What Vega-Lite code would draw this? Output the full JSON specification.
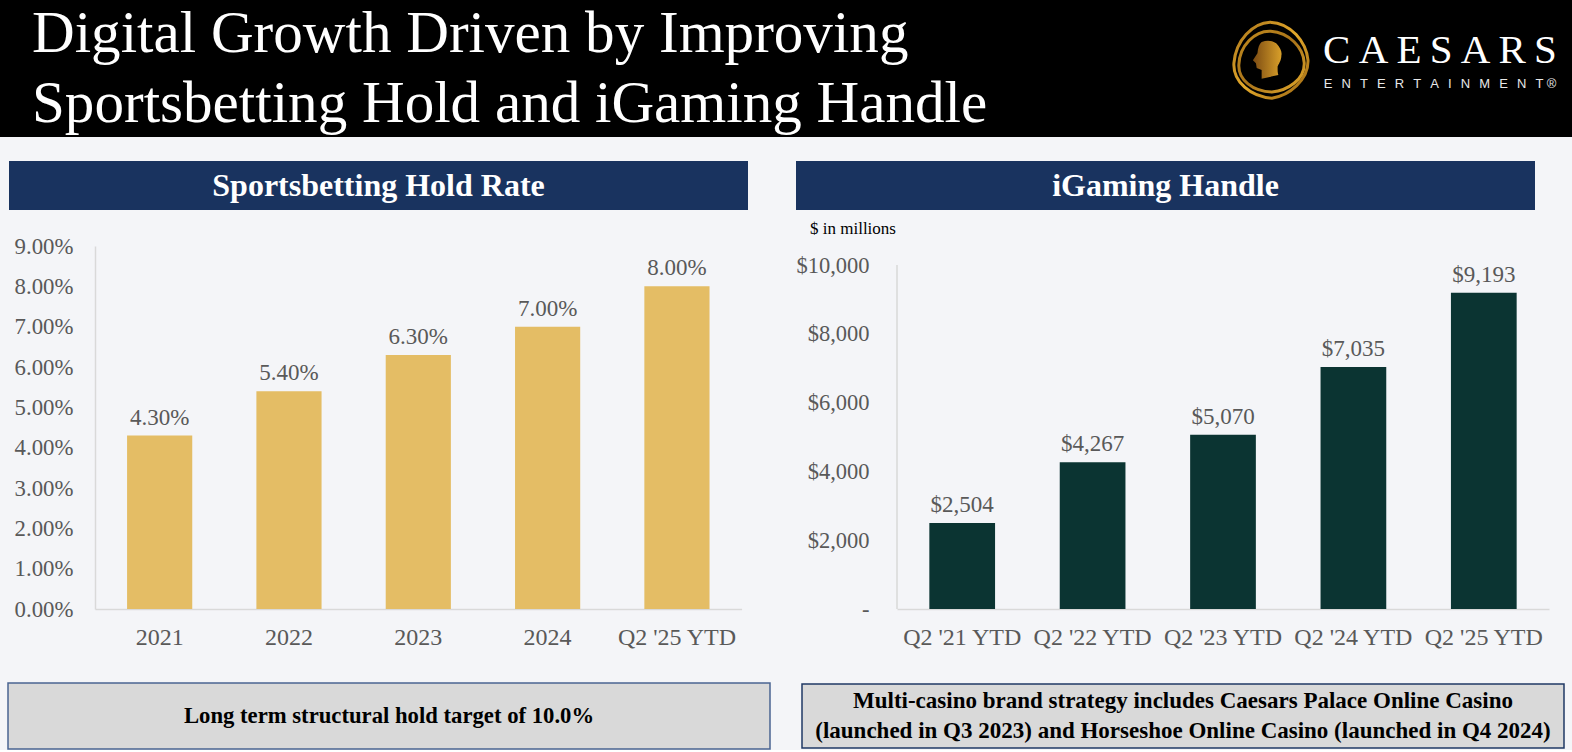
{"$schema":"https://vega.github.io/schema/vega-lite/v6.json","padding":0,"background":"#F4F5F8","config":{"view":{"stroke":null},"font":"Liberation Serif","concat":{"spacing":0}},"spacing":0,"vconcat":[
{"spacing":0,"bounds":"flush","hconcat":[
{"width":1220,"height":137,"view":{"fill":"#000000"},"title":{"text":["Digital Growth Driven by Improving","Sportsbetting Hold and iGaming Handle"],"anchor":"start","frame":"group","orient":"top","font":"Liberation Serif","fontSize":59.1,"fontWeight":"normal","color":"#FFFFFF","lineHeight":70,"dx":32,"dy":134,"offset":0},"data":{"values":[{"t":""}]},"mark":{"type":"text"},"encoding":{"text":{"field":"t"}}},
{"width":100,"height":137,"view":{"fill":"#000000"},"data":{"values":[{"k":"logo"}]},"layer":[
{"mark":{"type":"point","filled":false,"size":5776,"stroke":{"gradient":"linear","x1":0,"y1":0,"x2":1,"y2":1,"stops":[{"offset":0,"color":"#A9741A"},{"offset":0.5,"color":"#E3A92B"},{"offset":1,"color":"#9A6512"}]},"strokeWidth":3,"opacity":1,"shape":"M-0.95,-0.14 C-0.9,-0.75 -0.45,-1.2 0,-1.22 C0.55,-1.2 0.95,-0.7 1,-0.22 C1.02,0.3 0.5,0.72 0.05,0.78 C-0.5,0.75 -0.98,0.35 -0.95,-0.14 Z"}},
{"mark":{"type":"point","filled":false,"size":5776,"stroke":{"gradient":"linear","x1":0,"y1":0,"x2":1,"y2":1,"stops":[{"offset":0,"color":"#C08A1E"},{"offset":0.5,"color":"#A9741A"},{"offset":1,"color":"#E3A92B"}]},"strokeWidth":3,"opacity":1,"shape":"M-0.82,-0.1 C-0.8,-0.6 -0.4,-1 0.02,-0.98 C0.5,-0.95 0.88,-0.55 0.9,-0.15 C0.92,0.3 0.45,0.58 0.05,0.62 C-0.45,0.6 -0.84,0.3 -0.82,-0.1 Z"}},
{"mark":{"type":"point","filled":true,"size":5776,"fill":{"gradient":"linear","x1":0,"y1":0,"x2":1,"y2":0,"stops":[{"offset":0,"color":"#7A4A12"},{"offset":1,"color":"#D9A02A"}]},"strokeWidth":0,"opacity":1,"shape":"M-0.22,-0.7 C-0.05,-0.76 0.1,-0.72 0.17,-0.66 C0.28,-0.55 0.32,-0.42 0.3,-0.35 C0.3,-0.2 0.22,-0.12 0.2,-0.05 C0.2,0.05 0.2,0.12 0.22,0.17 L-0.22,0.27 L-0.22,0.04 L-0.35,-0.01 L-0.37,-0.14 L-0.45,-0.22 L-0.33,-0.4 C-0.32,-0.55 -0.28,-0.65 -0.22,-0.7 Z"}}
]},
{"width":252,"height":137,"view":{"fill":"#000000"},"layer":[
{"data":{"values":[{"label":"C\u2009A\u2009E\u2009S\u2009A\u2009R\u2009S"}]},"mark":{"type":"text","font":"Liberation Serif","fontSize":41,"color":"#FFFFFF","dx":-6,"dy":-18},"encoding":{"text":{"field":"label"}}},
{"data":{"values":[{"label":"E\u2002\u2009N\u2002\u2009T\u2002\u2009E\u2002\u2009R\u2002\u2009T\u2002\u2009A\u2002\u2009I\u2002\u2009N\u2002\u2009M\u2002\u2009E\u2002\u2009N\u2002\u2009T \u00ae"}]},"mark":{"type":"text","font":"Liberation Sans","fontSize":13,"color":"#E8E8E8","dx":-6,"dy":15},"encoding":{"text":{"field":"label"}}}
]}
]},
{"width":1,"height":24,"data":{"values":[{"t":""}]},"mark":{"type":"text","fontSize":1},"encoding":{"text":{"field":"t"}}},
{"spacing":0,"bounds":"flush","hconcat":[
{"width":9,"height":49,"data":{"values":[{"t":""}]},"mark":{"type":"text"},"encoding":{"text":{"field":"t"}}},
{"width":739,"height":49,"view":{"fill":"#19335F"},"data":{"values":[{"label":"Sportsbetting Hold Rate"}]},"mark":{"type":"text","font":"Liberation Serif","fontWeight":"bold","fontSize":32,"color":"#FFFFFF"},"encoding":{"text":{"field":"label"}}},
{"width":48,"height":49,"data":{"values":[{"t":""}]},"mark":{"type":"text"},"encoding":{"text":{"field":"t"}}},
{"width":739,"height":49,"view":{"fill":"#19335F"},"data":{"values":[{"label":"iGaming Handle"}]},"mark":{"type":"text","font":"Liberation Serif","fontWeight":"bold","fontSize":32,"color":"#FFFFFF"},"encoding":{"text":{"field":"label"}}}
]},
{"width":1,"height":9,"data":{"values":[{"t":""}]},"mark":{"type":"text","fontSize":1},"encoding":{"text":{"field":"t"}}},
{"spacing":0,"bounds":"flush","hconcat":[
{"width":94.7,"height":363,"data":{"values":[{"t":""}]},"mark":{"type":"text"},"encoding":{"text":{"field":"t"}}},
{"width":646.6,"height":363,"data":{"values":[{"period":"2021","value":0.043},{"period":"2022","value":0.054},{"period":"2023","value":0.063},{"period":"2024","value":0.07},{"period":"Q2 '25 YTD","value":0.08}]},
"encoding":{"x":{"field":"period","type":"nominal","sort":null,"title":null,"scale":{"paddingInner":0.496,"paddingOuter":0.248},"axis":{"labelAngle":0,"labelFontSize":24,"labelColor":"#595959","labelFont":"Liberation Serif","labelPadding":16,"ticks":false,"domainColor":"#D9D9D9","domainWidth":1.5}},"y":{"field":"value","type":"quantitative","title":null,"scale":{"domain":[0,0.09],"nice":false},"axis":{"values":[0,0.01,0.02,0.03,0.04,0.05,0.06,0.07,0.08,0.09],"format":".2%","grid":false,"ticks":false,"labelFontSize":22.8,"labelColor":"#595959","labelFont":"Liberation Serif","labelPadding":22,"domainColor":"#D9D9D9","domainWidth":1.5}}},
"layer":[{"mark":{"type":"bar","color":"#E4BD65"}},{"mark":{"type":"text","baseline":"bottom","dy":-6,"fontSize":23,"color":"#595959","font":"Liberation Serif"},"encoding":{"text":{"field":"value","type":"quantitative","format":".2%"}}}]},
{"width":154.7,"height":363,"data":{"values":[{"t":""}]},"mark":{"type":"text"},"encoding":{"text":{"field":"t"}}},
{"width":652,"height":363,"title":{"text":"$ in millions","anchor":"start","frame":"group","font":"Liberation Serif","fontSize":17,"fontWeight":"normal","color":"#000000","dx":-87,"offset":8.5},"data":{"values":[{"period":"Q2 '21 YTD","value":2504},{"period":"Q2 '22 YTD","value":4267},{"period":"Q2 '23 YTD","value":5070},{"period":"Q2 '24 YTD","value":7035},{"period":"Q2 '25 YTD","value":9193}]},
"encoding":{"x":{"field":"period","type":"nominal","sort":null,"title":null,"scale":{"paddingInner":0.496,"paddingOuter":0.248},"axis":{"labelAngle":0,"labelFontSize":24,"labelColor":"#595959","labelFont":"Liberation Serif","labelPadding":16,"ticks":false,"domainColor":"#D9D9D9","domainWidth":1.5}},"y":{"field":"value","type":"quantitative","title":null,"scale":{"domain":[0,10556],"nice":false},"axis":{"values":[0,2000,4000,6000,8000,10000],"labelExpr":"datum.value===0?'-':format(datum.value,'$,.0f')","grid":false,"ticks":false,"domain":false,"labelFontSize":22.5,"labelColor":"#595959","labelFont":"Liberation Serif","labelPadding":28}}},
"layer":[{"data":{"values":[{"lo":0,"hi":10000}]},"mark":{"type":"rule","color":"#D9D9D9","strokeWidth":1.5},"encoding":{"x":{"value":0},"y":{"field":"lo","type":"quantitative"},"y2":{"field":"hi"}}},{"mark":{"type":"bar","color":"#0B3432"}},{"mark":{"type":"text","baseline":"bottom","dy":-6,"fontSize":23,"color":"#595959","font":"Liberation Serif"},"encoding":{"text":{"field":"value","type":"quantitative","format":"$,.0f"}}}]},
{"width":24,"height":363,"data":{"values":[{"t":""}]},"mark":{"type":"text"},"encoding":{"text":{"field":"t"}}}
]},
{"width":1,"height":33,"data":{"values":[{"t":""}]},"mark":{"type":"text","fontSize":1},"encoding":{"text":{"field":"t"}}},
{"spacing":0,"bounds":"flush","center":true,"hconcat":[
{"width":8,"height":0,"data":{"values":[{"t":""}]},"mark":{"type":"text"},"encoding":{"text":{"field":"t"}}},
{"width":762,"height":66,"view":{"fill":"#D9D9D9","stroke":"#4A6491","strokeWidth":1.5},"data":{"values":[{"label":"Long term structural hold target of 10.0%"}]},"mark":{"type":"text","font":"Liberation Serif","fontWeight":"bold","fontSize":22.7,"color":"#000000"},"encoding":{"text":{"field":"label"}}},
{"width":32,"height":0,"data":{"values":[{"t":""}]},"mark":{"type":"text"},"encoding":{"text":{"field":"t"}}},
{"width":762,"height":64,"view":{"fill":"#D9D9D9","stroke":"#1F3864","strokeWidth":1.5},"data":{"values":[{"label":"Multi-casino brand strategy includes Caesars Palace Online Casino\n(launched in Q3 2023) and Horseshoe Online Casino (launched in Q4 2024)"}]},"mark":{"type":"text","font":"Liberation Serif","fontWeight":"bold","fontSize":23,"color":"#000000","lineBreak":"\n","lineHeight":30,"dy":-15},"encoding":{"text":{"field":"label"}}}
]}
]}
